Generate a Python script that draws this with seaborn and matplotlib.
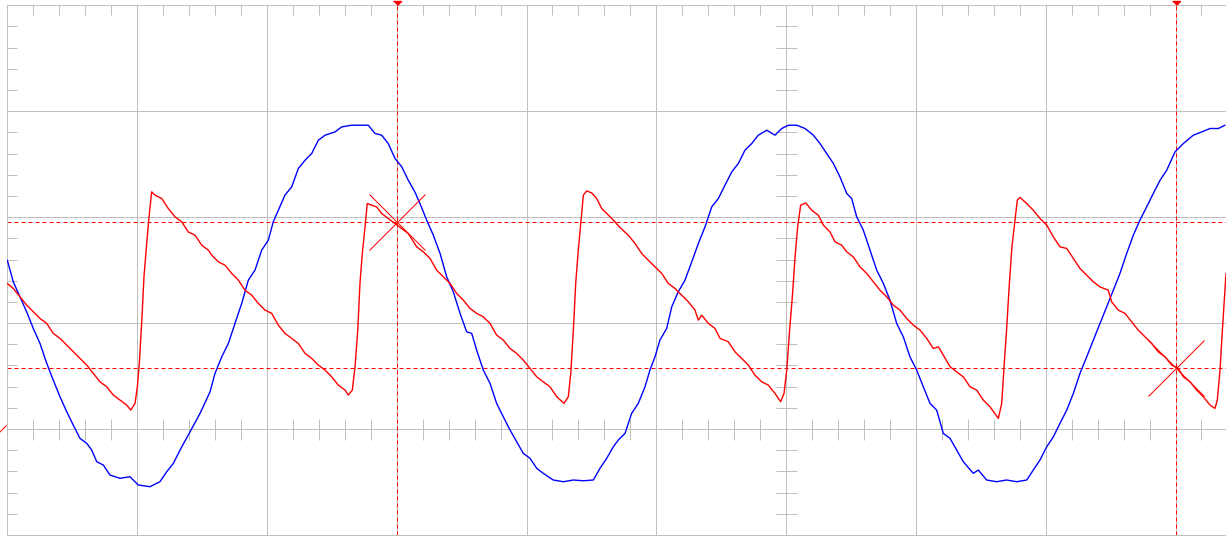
import numpy as np
import pandas as pd
import matplotlib
matplotlib.use("Agg")
import matplotlib.pyplot as plt
import seaborn as sns

# scope capture: time and level both in divisions
blue_t = [0.000, 0.046, 0.098, 0.149, 0.200, 0.252, 0.304, 0.354, 0.406, 0.458,
          0.508, 0.560, 0.612, 0.650, 0.689, 0.740, 0.791, 0.868, 0.945, 1.009,
          1.099, 1.176, 1.228, 1.279, 1.331, 1.408, 1.485, 1.562, 1.600, 1.652,
          1.703, 1.754, 1.806, 1.857, 1.908, 1.960, 2.011, 2.049, 2.088, 2.139,
          2.191, 2.242, 2.294, 2.345, 2.396, 2.448, 2.525, 2.576, 2.653, 2.730,
          2.781, 2.833, 2.884, 2.935, 2.987, 3.039, 3.089, 3.141, 3.179, 3.231,
          3.282, 3.334, 3.385, 3.436, 3.488, 3.539, 3.578, 3.616, 3.667, 3.719,
          3.770, 3.821, 3.873, 3.924, 3.975, 4.027, 4.079, 4.129, 4.206, 4.284,
          4.361, 4.438, 4.515, 4.566, 4.618, 4.669, 4.707, 4.759, 4.810, 4.861,
          4.913, 4.951, 4.990, 5.028, 5.080, 5.119, 5.169, 5.221, 5.273, 5.324,
          5.375, 5.427, 5.478, 5.529, 5.581, 5.632, 5.683, 5.735, 5.786, 5.851,
          5.914, 5.966, 6.017, 6.082, 6.146, 6.210, 6.261, 6.313, 6.364, 6.415,
          6.467, 6.505, 6.544, 6.595, 6.646, 6.698, 6.749, 6.800, 6.852, 6.903,
          6.954, 7.006, 7.057, 7.109, 7.160, 7.211, 7.263, 7.314, 7.365, 7.442,
          7.481, 7.545, 7.622, 7.699, 7.776, 7.854, 7.904, 7.956, 8.008, 8.059,
          8.110, 8.162, 8.213, 8.264, 8.316, 8.367, 8.418, 8.470, 8.521, 8.572,
          8.624, 8.675, 8.726, 8.778, 8.829, 8.881, 8.932, 8.996, 9.060, 9.137,
          9.202, 9.266, 9.330, 9.381]
blue_v = [1.594, 1.390, 1.248, 1.107, 0.950, 0.808, 0.620, 0.462, 0.305, 0.163,
          0.038, -0.088, -0.135, -0.198, -0.308, -0.340, -0.434, -0.465, -0.450, -0.528,
          -0.544, -0.497, -0.403, -0.324, -0.198, -0.025, 0.148, 0.352, 0.525, 0.682,
          0.808, 0.997, 1.186, 1.406, 1.500, 1.689, 1.783, 1.956, 2.066, 2.208,
          2.286, 2.459, 2.538, 2.601, 2.726, 2.774, 2.805, 2.852, 2.868, 2.868,
          2.868, 2.790, 2.774, 2.695, 2.554, 2.475, 2.349, 2.236, 2.129, 1.972,
          1.830, 1.658, 1.437, 1.295, 1.092, 0.918, 0.903, 0.745, 0.557, 0.431,
          0.242, 0.116, -0.009, -0.120, -0.229, -0.276, -0.371, -0.418, -0.481, -0.497,
          -0.481, -0.488, -0.481, -0.371, -0.276, -0.167, -0.104, -0.041, 0.148, 0.242,
          0.399, 0.557, 0.682, 0.840, 0.950, 1.154, 1.295, 1.406, 1.578, 1.752,
          1.908, 2.097, 2.176, 2.302, 2.427, 2.507, 2.632, 2.695, 2.774, 2.821,
          2.774, 2.837, 2.868, 2.868, 2.837, 2.774, 2.695, 2.601, 2.507, 2.380,
          2.224, 2.176, 2.003, 1.877, 1.689, 1.500, 1.375, 1.217, 0.997, 0.871,
          0.682, 0.557, 0.399, 0.242, 0.179, -0.041, -0.088, -0.198, -0.308, -0.418,
          -0.387, -0.481, -0.497, -0.481, -0.497, -0.481, -0.387, -0.292, -0.167, -0.073,
          0.054, 0.179, 0.337, 0.525, 0.682, 0.840, 0.997, 1.154, 1.311, 1.469,
          1.658, 1.830, 1.972, 2.097, 2.224, 2.349, 2.443, 2.616, 2.695, 2.774,
          2.805, 2.837, 2.837, 2.868]

red_t = [0.000, 0.046, 0.098, 0.149, 0.200, 0.252, 0.304, 0.354, 0.406, 0.458,
         0.508, 0.560, 0.612, 0.663, 0.714, 0.766, 0.817, 0.868, 0.920, 0.951,
         0.984, 1.002, 1.017, 1.035, 1.053, 1.074, 1.092, 1.112, 1.138, 1.190,
         1.240, 1.292, 1.344, 1.394, 1.446, 1.498, 1.549, 1.575, 1.626, 1.677,
         1.729, 1.780, 1.831, 1.883, 1.934, 1.985, 2.037, 2.088, 2.139, 2.191,
         2.242, 2.294, 2.345, 2.396, 2.448, 2.499, 2.550, 2.602, 2.627, 2.658,
         2.679, 2.700, 2.717, 2.735, 2.756, 2.773, 2.807, 2.846, 2.884, 2.935,
         2.987, 3.039, 3.089, 3.154, 3.205, 3.257, 3.308, 3.359, 3.411, 3.462,
         3.513, 3.565, 3.616, 3.667, 3.719, 3.770, 3.821, 3.873, 3.924, 3.975,
         4.027, 4.079, 4.129, 4.181, 4.233, 4.289, 4.322, 4.341, 4.361, 4.379,
         4.399, 4.418, 4.438, 4.464, 4.502, 4.541, 4.579, 4.618, 4.669, 4.715,
         4.784, 4.836, 4.887, 4.938, 4.990, 5.042, 5.092, 5.144, 5.196, 5.247,
         5.298, 5.324, 5.350, 5.401, 5.452, 5.491, 5.555, 5.606, 5.658, 5.709,
         5.760, 5.812, 5.863, 5.914, 5.958, 5.984, 6.005, 6.025, 6.048, 6.069,
         6.089, 6.112, 6.151, 6.197, 6.248, 6.287, 6.338, 6.377, 6.428, 6.467,
         6.518, 6.569, 6.621, 6.672, 6.723, 6.775, 6.826, 6.877, 6.929, 6.980,
         7.032, 7.083, 7.134, 7.173, 7.211, 7.263, 7.314, 7.365, 7.417, 7.468,
         7.519, 7.571, 7.635, 7.661, 7.679, 7.700, 7.720, 7.740, 7.763, 7.781,
         7.802, 7.854, 7.904, 7.956, 8.008, 8.059, 8.110, 8.162, 8.213, 8.264,
         8.316, 8.367, 8.418, 8.482, 8.508, 8.559, 8.611, 8.662, 8.713, 8.765,
         8.817, 8.867, 8.919, 8.971, 9.022, 9.060, 9.112, 9.163, 9.214, 9.266,
         9.304, 9.322, 9.343, 9.358, 9.373, 9.389]
red_v = [1.375, 1.327, 1.248, 1.170, 1.107, 1.044, 0.997, 0.903, 0.856, 0.792,
         0.729, 0.667, 0.604, 0.525, 0.446, 0.399, 0.321, 0.274, 0.226, 0.179,
         0.242, 0.399, 0.620, 0.997, 1.437, 1.752, 2.003, 2.239, 2.208, 2.176,
         2.082, 2.003, 1.956, 1.861, 1.830, 1.736, 1.689, 1.642, 1.578, 1.547,
         1.469, 1.406, 1.311, 1.264, 1.186, 1.123, 1.092, 0.981, 0.903, 0.856,
         0.808, 0.714, 0.667, 0.604, 0.557, 0.493, 0.415, 0.368, 0.321, 0.368,
         0.588, 0.934, 1.375, 1.658, 1.908, 2.129, 2.113, 2.097, 2.035, 1.988,
         1.941, 1.893, 1.846, 1.720, 1.673, 1.610, 1.500, 1.437, 1.375, 1.280,
         1.217, 1.139, 1.092, 1.059, 0.997, 0.887, 0.840, 0.761, 0.714, 0.651,
         0.573, 0.493, 0.446, 0.399, 0.305, 0.242, 0.305, 0.525, 0.934, 1.375,
         1.689, 1.941, 2.208, 2.248, 2.229, 2.176, 2.082, 2.035, 1.972, 1.908,
         1.830, 1.752, 1.658, 1.594, 1.531, 1.469, 1.375, 1.327, 1.264, 1.201,
         1.123, 1.028, 1.075, 0.997, 0.950, 0.856, 0.824, 0.729, 0.667, 0.604,
         0.509, 0.446, 0.415, 0.337, 0.258, 0.337, 0.557, 0.903, 1.248, 1.625,
         1.908, 2.113, 2.135, 2.066, 2.019, 1.925, 1.861, 1.767, 1.736, 1.673,
         1.625, 1.531, 1.469, 1.390, 1.311, 1.248, 1.170, 1.123, 1.044, 0.981,
         0.934, 0.856, 0.761, 0.776, 0.698, 0.588, 0.541, 0.493, 0.399, 0.368,
         0.274, 0.210, 0.101, 0.242, 0.588, 0.965, 1.375, 1.720, 1.972, 2.160,
         2.186, 2.129, 2.066, 1.988, 1.925, 1.814, 1.720, 1.705, 1.610, 1.516,
         1.453, 1.390, 1.342, 1.311, 1.201, 1.123, 1.092, 1.012, 0.934, 0.871,
         0.808, 0.729, 0.682, 0.604, 0.573, 0.493, 0.446, 0.368, 0.305, 0.226,
         0.195, 0.274, 0.557, 0.871, 1.154, 1.469]

# cursors (time cursor + level cursor pairs)
cursor_t = [3.0, 9.0]
cursor_v = [1.95, 0.58]
red_ground = 0.0

GRID = "#c0bfbb"
RED = "#ff0000"
BLUE = "#0000ff"
PX = 0.72  # one screen pixel in points at dpi 100

sns.set_style("white")
fig = plt.figure(figsize=(12.26, 5.41), dpi=100)
ax = fig.add_axes([7.3 / 1226, 6 / 541, 1218.7 / 1226, 529.7 / 541])
ax.set_xlim(0, 9.389)
ax.set_ylim(-1, 4)

# graticule
ax.set_xticks(np.arange(0, 10))
ax.set_yticks(np.arange(-1, 5))
ax.set_xticks(np.arange(0, 9.4, 0.2), minor=True)
ax.set_yticks(np.arange(-1, 4.01, 0.2), minor=True)
ax.grid(True, which="major", color=GRID, linewidth=PX)
ax.tick_params(which="major", length=0, labelbottom=False, labelleft=False)
ax.tick_params(axis="x", which="minor", bottom=False, top=True, direction="in",
               length=10 * PX, width=PX, color=GRID)
ax.tick_params(axis="y", which="minor", left=True, right=False, direction="in",
               length=10 * PX, width=PX, color=GRID)
for side in ["left", "top", "bottom"]:
    ax.spines[side].set_color(GRID)
    ax.spines[side].set_linewidth(PX)
ax.spines["right"].set_visible(False)

# centre axes with double-sided ticks
x_minor = np.arange(0, 9.4, 0.2)
y_minor = np.arange(-1, 4.01, 0.2)
ax.plot(x_minor, np.zeros_like(x_minor), linestyle="none", marker="|",
        markersize=21 * PX, markeredgewidth=PX, color=GRID, zorder=1)
ax.plot(np.full_like(y_minor, 6.0), y_minor, linestyle="none", marker="_",
        markersize=21 * PX, markeredgewidth=PX, color=GRID, zorder=1)

# cursors
for t in cursor_t:
    ax.axvline(t, color=RED, linewidth=PX, linestyle=(0, (4, 3)), zorder=2)
for v in cursor_v:
    ax.axhline(v, color=RED, linewidth=PX, linestyle=(0, (4, 3)), zorder=2)

# traces
df_blue = pd.DataFrame({"t": blue_t, "v": blue_v})
df_red = pd.DataFrame({"t": red_t, "v": red_v})
sns.lineplot(data=df_blue, x="t", y="v", ax=ax, color=BLUE, linewidth=1.0,
             estimator=None, sort=False, zorder=3)
sns.lineplot(data=df_red, x="t", y="v", ax=ax, color=RED, linewidth=1.0,
             estimator=None, sort=False, zorder=4)
ax.set_xlabel("")
ax.set_ylabel("")

# cursor crossings
ax.plot(cursor_t, cursor_v, linestyle="none", marker="x", markersize=56 * PX,
        markeredgewidth=PX, color=RED, zorder=5)

# trigger markers on the top edge
tri = [(-1, 1), (1, 1), (0, 0)]
ax.plot(cursor_t, [4, 4], linestyle="none", marker=tri, markersize=8 * PX,
        color=RED, clip_on=False, zorder=6)

# channel ground marker at the left edge
ax.plot([-0.04], [red_ground], linestyle="none",
        marker=[(-1, -1), (1, 1)], markersize=8 * PX, markeredgewidth=PX,
        color=RED, clip_on=False)

fig.savefig("out.png", dpi=100)
